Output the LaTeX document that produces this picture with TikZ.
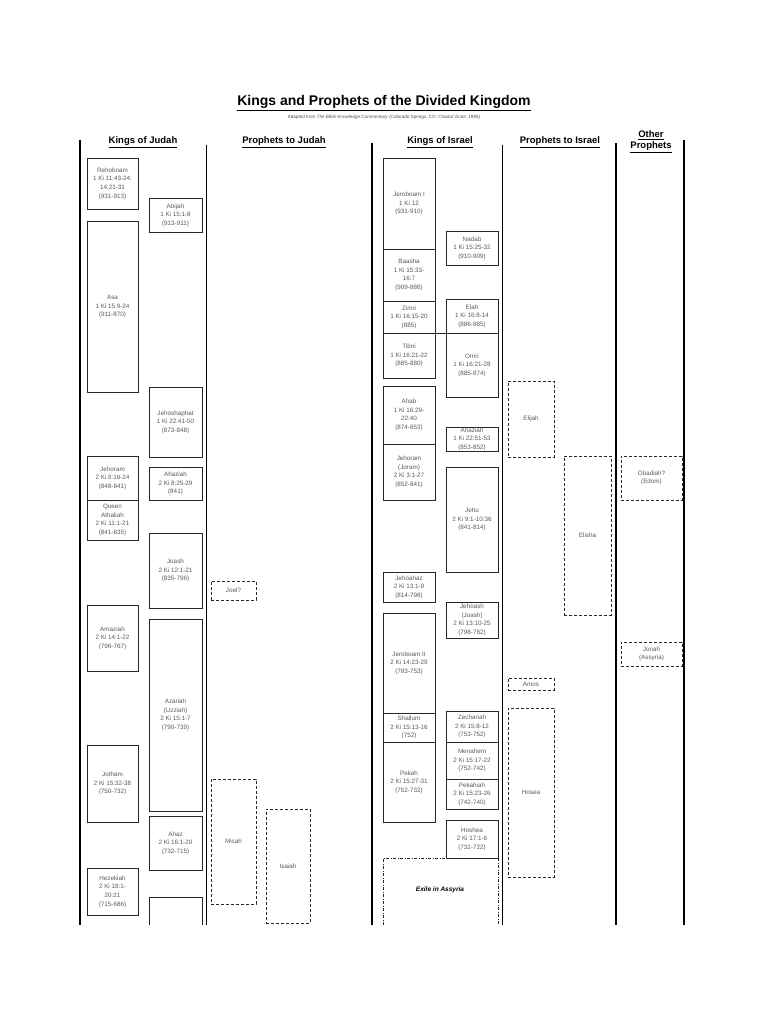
\documentclass[tikz,border=0pt]{standalone}
\usepackage{fontspec}
\setmainfont{Liberation Sans}
\begin{document}
\begin{tikzpicture}[x=1pt,y=-1pt,
  kb/.style={draw=black!85,line width=0.9pt,align=center,inner sep=0pt,
    font=\fontsize{6.3}{8.6}\selectfont,text=black!65},
  pb/.style={kb,dashed,dash pattern=on 3pt off 2pt,line width=1pt},
  hd/.style={font=\bfseries\fontsize{9.5}{11}\selectfont,align=center},
  thick line/.style={line width=1.5pt},
  thin line/.style={line width=0.7pt}]
\useasboundingbox (0,0) rectangle (768,1024);
\newcommand\bx[7]{\node[#1,minimum width={(#5-#3)*1pt},minimum height={(#6-#4)*1pt}] (#2) at ({(#3+#5)/2},{(#4+#6)/2}) {#7};}
% title
\node (title) at (384,103) {\bfseries\fontsize{14}{16}\selectfont\underline{Kings and Prophets of the Divided Kingdom}};
\node (sub) at (384,117) {\fontsize{4.6}{5}\selectfont\color{black!70}Adapted from \textit{The Bible Knowledge Commentary} (Colorado Springs, CO: Chariot Victor, 1985)};
\node[hd] (h1) at (143,142) {\underline{Kings of Judah}};
\node[hd] (h2) at (284,142) {\underline{Prophets to Judah}};
\node[hd] (h3) at (440,142) {\underline{Kings of Israel}};
\node[hd] (h4) at (560,142) {\underline{Prophets to Israel}};
\node[hd] (h5) at (651,142) {\underline{Other}\\\underline{Prophets}};
% column lines
\draw[thick line] (80,140) -- (80,925);
\draw[thin line] (206,145) -- (206,925);
\draw[thick line] (372,143) -- (372,925);
\draw[thin line] (502,145) -- (502,925);
\draw[thick line] (616,143) -- (616,925);
\draw[thick line] (684,140) -- (684,925);
% Judah kings
\bx{kb}{reh}{87}{158}{138}{209}{Rehoboam\\1 Ki 11:43-24;\\14:21-31\\(931-913)}
\bx{kb}{asa}{87}{221}{138}{392}{Asa\\1 Ki 15:9-24\\(911-870)}
\bx{kb}{jehoram}{87}{456}{138}{500}{Jehoram\\2 Ki 8:16-24\\(848-841)}
\bx{kb}{athal}{87}{500}{138}{540}{Queen\\Athaliah\\2 Ki 11:1-21\\(841-835)}
\bx{kb}{amaz}{87}{605}{138}{671}{Amaziah\\2 Ki 14:1-22\\(796-767)}
\bx{kb}{jotham}{87}{745}{138}{822}{Jotham\\2 Ki 15:32-38\\(750-732)}
\bx{kb}{hezek}{87}{868}{138}{915}{Hezekiah\\2 Ki 18:1-\\20:21\\(715-686)}
\bx{kb}{abijah}{149}{198}{202}{232}{Abijah\\1 Ki 15:1-8\\(913-911)}
\bx{kb}{jehosh}{149}{387}{202}{457}{Jehoshaphat\\1 Ki 22:41-50\\(873-848)}
\bx{kb}{ahazj}{149}{467}{202}{500}{Ahaziah\\2 Ki 8:25-29\\(841)}
\bx{kb}{joash}{149}{533}{202}{608}{Joash\\2 Ki 12:1-21\\(835-796)}
\bx{kb}{azar}{149}{619}{202}{811}{Azariah\\(Uzziah)\\2 Ki 15:1-7\\(790-739)}
\bx{kb}{ahaz}{149}{816}{202}{870}{Ahaz\\2 Ki 16:1-20\\(732-715)}
\draw[draw=black!85,line width=0.9pt] (149,925) -- (149,897) -- (202,897) -- (202,925);
% Judah prophets
\bx{pb}{joel}{211}{581}{256}{600}{Joel?}
\bx{pb}{micah}{211}{779}{256}{904}{Micah}
\bx{pb}{isaiah}{266}{809}{310}{923}{Isaiah}
% Israel kings
\bx{kb}{jer1}{383}{158}{435}{249}{Jeroboam I\\1 Ki 12\\(931-910)}
\bx{kb}{baasha}{383}{249}{435}{301}{Baasha\\1 Ki 15:33-\\16:7\\(909-886)}
\bx{kb}{zimri}{383}{301}{435}{333}{Zimri\\1 Ki 16:15-20\\(885)}
\bx{kb}{tibni}{383}{333}{435}{378}{Tibni\\1 Ki 16:21-22\\(885-880)}
\bx{kb}{ahab}{383}{386}{435}{444}{Ahab\\1 Ki 16:29-\\22:40\\(874-853)}
\bx{kb}{joram}{383}{444}{435}{500}{Jehoram\\(Joram)\\2 Ki 3:1-27\\(852-841)}
\bx{kb}{jehoahaz}{383}{572}{435}{602}{Jehoahaz\\2 Ki 13:1-9\\(814-798)}
\bx{kb}{jer2}{383}{613}{435}{713}{Jeroboam II\\2 Ki 14:23-29\\(793-753)}
\bx{kb}{shallum}{383}{713}{435}{742}{Shallum\\2 Ki 15:13-16\\(752)}
\bx{kb}{pekah}{383}{742}{435}{822}{Pekah\\2 Ki 15:27-31\\(752-732)}
\bx{kb}{nadab}{446}{231}{498}{265}{Nadab\\1 Ki 15:25-32\\(910-909)}
\bx{kb}{elah}{446}{299}{498}{333}{Elah\\1 Ki 16:8-14\\(886-885)}
\bx{kb}{omri}{446}{333}{498}{397}{Omri\\1 Ki 16:21-28\\(885-874)}
\bx{kb}{ahazi}{446}{427}{498}{451}{Ahaziah\\1 Ki 22:51-53\\(853-852)}
\bx{kb}{jehu}{446}{467}{498}{572}{Jehu\\2 Ki 9:1-10:36\\(841-814)}
\bx{kb}{jehoash}{446}{602}{498}{638}{Jehoash\\(Joash)\\2 Ki 13:10-25\\(798-782)}
\bx{kb}{zech}{446}{711}{498}{742}{Zechariah\\2 Ki 15:8-12\\(753-752)}
\bx{kb}{menahem}{446}{742}{498}{779}{Menahem\\2 Ki 15:17-22\\(752-742)}
\bx{kb}{pekahiah}{446}{779}{498}{809}{Pekahiah\\2 Ki 15:23-26\\(742-740)}
\bx{kb}{hoshea}{446}{820}{498}{858}{Hoshea\\2 Ki 17:1-6\\(732-722)}
\draw[black!85,line width=0.9pt] (zimri.south east) -- (elah.south west);
\draw[black!85,line width=0.9pt,dash pattern=on 3pt off 1.5pt on 1pt off 1.5pt] (383,925) -- (383,858) -- (498,858) -- (498,925);
\node[font=\bfseries\itshape\fontsize{6.5}{8}\selectfont] (exile) at (440,890) {Exile in Assyria};
% Israel prophets
\bx{pb}{elijah}{508}{381}{554}{457}{Elijah}
\bx{pb}{elisha}{564}{456}{611}{615}{Elisha}
\bx{pb}{amos}{508}{678}{554}{690}{Amos}
\bx{pb}{hosea}{508}{708}{554}{877}{Hosea}
% Other prophets
\bx{pb}{obad}{621}{456}{682}{500}{Obadiah?\\(Edom)}
\bx{pb}{jonah}{621}{642}{682}{666}{Jonah\\(Assyria)}
\end{tikzpicture}
\end{document}
